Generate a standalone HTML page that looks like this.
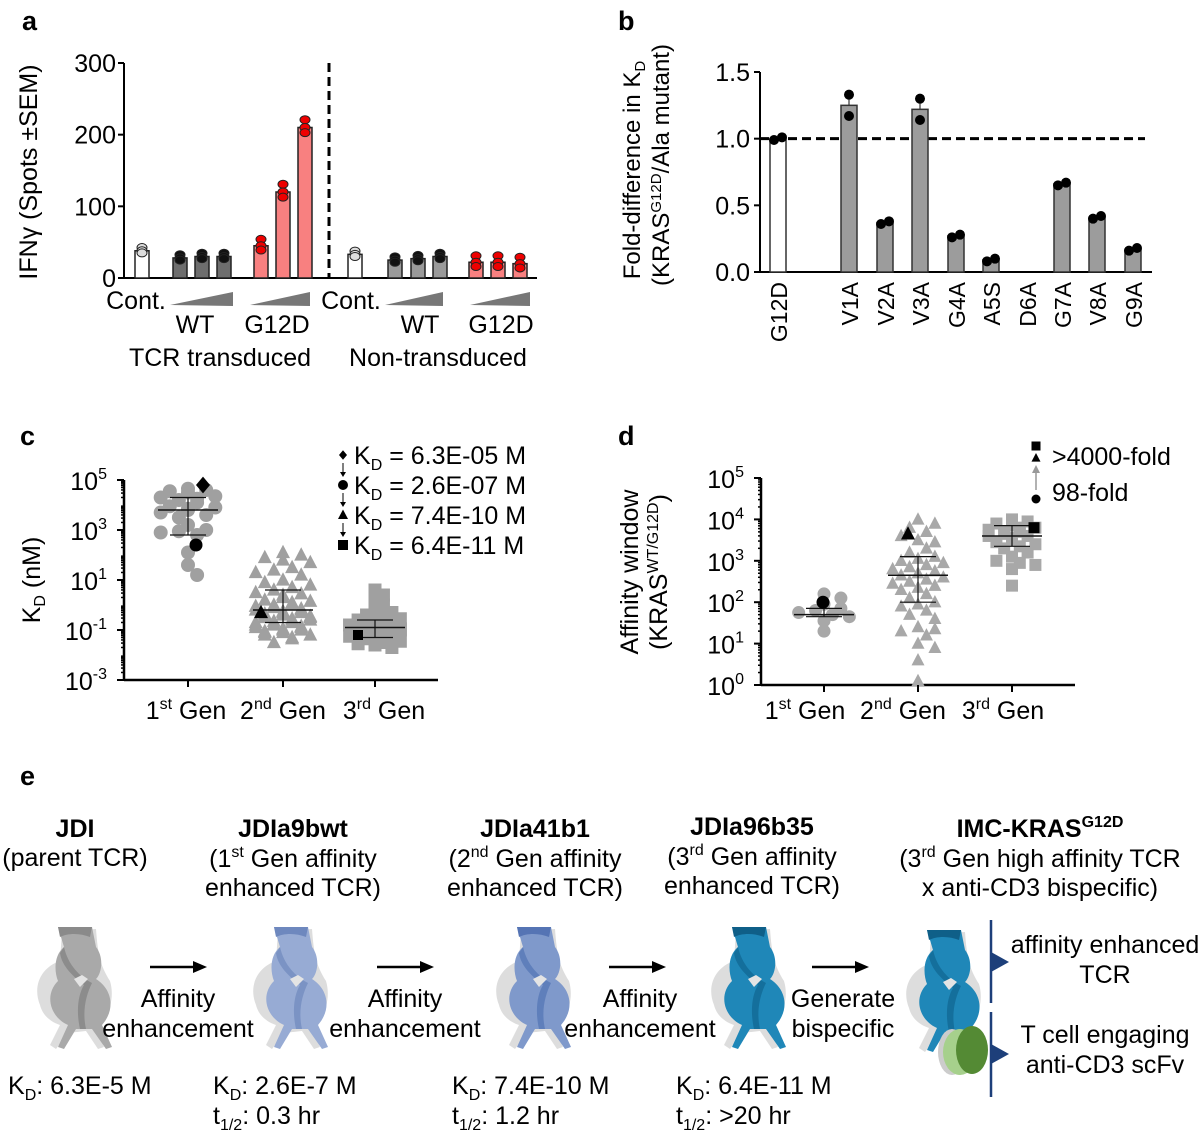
<!DOCTYPE html>
<html><head><meta charset="utf-8"><style>
body{margin:0;background:#fff;font-family:"Liberation Sans",Arial,sans-serif}
svg text{font-family:"Liberation Sans",Arial,sans-serif;fill:#000}
</style></head><body>
<svg id="fig" width="1200" height="1133" viewBox="0 0 1200 1133" xmlns="http://www.w3.org/2000/svg">
<g id="pa"></g>
<g id="pb"></g>
<g id="pc"></g>
<g id="pd"></g>
<g id="pe"></g>
</svg>
<script>
// ---- Panel a data
const aValues=[38,28,30,30,45,120,210,33,25,27,30,22,22,20];
const aKinds=['c','w','w','w','g','g','g','c','n','n','n','g','g','g'];
const aTicks=[0,100,200,300];
// ---- Panel b data
const bCats=['G12D','V1A','V2A','V3A','G4A','A5S','D6A','G7A','V8A','G9A'];
const bValues=[1.0,1.25,0.37,1.22,0.27,0.09,0,0.66,0.41,0.17];
const bTicks=['0.0','0.5','1.0','1.5'];
// ---- Panel c data (log10 nM)
const c1=[4.65,4.6,4.55,4.5,4.35,4.3,4.25,4.2,4.1,3.95,3.9,3.85,3.8,3.7,3.6,3.5,3.2,3.0,2.95,2.9,2.8,2.1,1.6,1.2];
const c2=[2.1,2.0,1.9,1.8,1.7,1.5,1.4,1.3,1.2,1.0,0.9,0.8,0.7,0.6,0.5,0.45,0.4,0.3,0.2,0.15,0.1,0.05,0,-0.05,-0.1,-0.15,-0.2,-0.2,-0.25,-0.3,-0.3,-0.35,-0.4,-0.4,-0.45,-0.5,-0.5,-0.55,-0.6,-0.6,-0.65,-0.7,-0.7,-0.75,-0.8,-0.8,-0.85,-0.9,-0.9,-0.95,-1.0,-1.0,-1.05,-1.1,-1.1,-1.2,-1.2,-1.3,-1.35,-1.5];
const c3=[0.6,0.4,0.2,0.0,-0.2,-0.3,-0.4,-0.5,-0.55,-0.6,-0.65,-0.7,-0.7,-0.75,-0.8,-0.8,-0.85,-0.9,-0.9,-0.95,-1.0,-1.0,-1.05,-1.1,-1.1,-1.15,-1.2,-1.2,-1.25,-1.3,-1.35,-1.4,-1.45,-1.5,-1.55,-1.6,-1.7];
const cMean=[3.8,-0.2,-0.9], cLo=[2.8,-0.7,-1.3], cHi=[4.3,0.6,-0.6];
const cSpecial=[4.8,2.4,-0.3,-1.2];
const cLegend=['6.3E-05 M','2.6E-07 M','7.4E-10 M','6.4E-11 M'];
// ---- Panel d data (log10 fold)
const d1=[2.2,2.1,1.95,1.85,1.8,1.75,1.7,1.65,1.55,1.3];
const d2=[4.0,3.9,3.8,3.7,3.6,3.5,3.45,3.3,3.2,3.1,3.05,3.0,2.95,2.9,2.85,2.8,2.75,2.7,2.65,2.6,2.55,2.5,2.45,2.4,2.35,2.3,2.2,2.1,2.0,1.95,1.9,1.8,1.7,1.6,1.4,1.35,1.3,1.2,1.0,0.9,0.6,0.1];
const d3=[4.0,3.95,3.9,3.85,3.8,3.8,3.75,3.7,3.7,3.65,3.6,3.6,3.55,3.5,3.45,3.4,3.35,3.3,3.2,3.1,3.0,2.95,2.9,2.8,2.4];
const dMean=[1.7,2.65,3.6], dLo=[1.65,2.0,3.35], dHi=[1.85,3.1,3.85];
const dSpecial=[2.0,3.65,3.8];

const NS='http://www.w3.org/2000/svg';
const FS=25;
function el(p,tag,at,txt){const e=document.createElementNS(NS,tag);for(const k in at)e.setAttribute(k,at[k]);if(txt!==undefined)e.textContent=txt;p.appendChild(e);return e;}
function label(p,x,y,str,size,anchor,weight){return el(p,'text',{x:x,y:y,'font-size':size,'text-anchor':anchor||'start','font-weight':weight||'normal'},str);}

// ===== Panel a
(function(){
const g=document.getElementById('pa');
const X0=124,Y0=278,Y1=63;
const ya=v=>Y0-(v/300)*(Y0-Y1);
const xs=[142,180,202,224,261,283,305,355,395,418,440,476,498,520];
let t=label(g,22,30,'a',27,'start','bold');
let ax=el(g,'line',{x1:X0,y1:Y1,x2:X0,y2:Y0,stroke:'#000','stroke-width':2});
let bx=el(g,'line',{x1:X0,y1:Y0,x2:537,y2:Y0,stroke:'#000','stroke-width':2});
aTicks.forEach(v=>{el(g,'line',{x1:X0-6,y1:ya(v),x2:X0,y2:ya(v),stroke:'#000','stroke-width':2});
 let tl=label(g,X0-8,ya(v)+9,String(v),FS,'end');});
let yt=el(g,'text',{x:0,y:0,'font-size':FS,'text-anchor':'middle',transform:'translate(37,172) rotate(-90)'},'IFNγ (Spots ±SEM)');
el(g,'line',{x1:329,y1:63,x2:329,y2:278,stroke:'#000','stroke-width':3,'stroke-dasharray':'9,5'});
aValues.forEach((v,i)=>{const k=aKinds[i];
 const fill=k==='c'?'#fff':k==='w'?'#6e6e6e':k==='n'?'#9a9a9a':'#f88080';
 const r=el(g,'rect',{x:xs[i]-7,y:ya(v),width:14,height:Y0-ya(v),fill:fill,stroke:'#222','stroke-width':1.5});
 
 const err=k==='g'?(v>100?12:10):5;
 el(g,'line',{x1:xs[i],y1:ya(v+err),x2:xs[i],y2:ya(v),stroke:'#222','stroke-width':1.5});
 el(g,'line',{x1:xs[i]-4,y1:ya(v+err),x2:xs[i]+4,y2:ya(v+err),stroke:'#222','stroke-width':1.5});
 const dc=k==='c'?'#ddd':k==='g'?'#e00':'#111';
 [v+err*0.9,v,v-err*0.6].forEach(p=>{el(g,'ellipse',{cx:xs[i],cy:ya(p),rx:5,ry:4,fill:dc,stroke:'#222','stroke-width':1});});
});
[[170,233],[250,310],[385,443],[470,530]].forEach(w=>{el(g,'polygon',{points:`${w[0]},305 ${w[1]},292 ${w[1]},306`,fill:'#777'});});
[['Cont.',136,309],['WT',195,333],['G12D',277,333],['Cont.',351,309],['WT',420,333],['G12D',501,333],['TCR transduced',220,366],['Non-transduced',438,366]].forEach(s=>{
 let tt=label(g,s[1],s[2],s[0],FS,'middle');});
})();

// ===== Panel b
(function(){
const g=document.getElementById('pb');
const X0=760,Y0=272,Y1=72;
const yb=v=>Y0-(v/1.5)*(Y0-Y1);
const xs=[778,849,885,920,956,991,1027,1062,1097,1133];
label(g,618,30,'b',27,'start','bold');
el(g,'line',{x1:X0,y1:Y1,x2:X0,y2:Y0,stroke:'#000','stroke-width':2});
el(g,'line',{x1:X0,y1:Y0,x2:1152,y2:Y0,stroke:'#000','stroke-width':2});
bTicks.forEach(s=>{const v=parseFloat(s);el(g,'line',{x1:X0-6,y1:yb(v),x2:X0,y2:yb(v),stroke:'#000','stroke-width':2});
 let tl=label(g,X0-10,yb(v)+9,s,FS,'end');});
el(g,'line',{x1:X0,y1:yb(1),x2:1145,y2:yb(1),stroke:'#000','stroke-width':3,'stroke-dasharray':'9,5'});
bValues.forEach((v,i)=>{
 if(v>0){const r=el(g,'rect',{x:xs[i]-8,y:yb(v),width:16,height:Y0-yb(v),fill:i===0?'#fff':'#9c9c9c',stroke:'#333','stroke-width':1.5});
 
 const big=(i===1||i===3);
 if(big){el(g,'line',{x1:xs[i],y1:yb(v+0.08),x2:xs[i],y2:yb(v),stroke:'#333','stroke-width':1.2});
  el(g,'circle',{cx:xs[i],cy:yb(v+0.08),r:5,fill:'#000'});el(g,'circle',{cx:xs[i],cy:yb(v-0.08),r:5,fill:'#000'});}
 else{el(g,'circle',{cx:xs[i]-4,cy:yb(v-0.01),r:5,fill:'#000'});el(g,'circle',{cx:xs[i]+4,cy:yb(v+0.01),r:5,fill:'#000'});}}
 let tl=el(g,'text',{x:0,y:0,'font-size':23,'text-anchor':'end',transform:`translate(${xs[i]+9},282) rotate(-90)`},bCats[i]);
 
});
let t1=el(g,'text',{x:0,y:0,'font-size':24,'text-anchor':'middle',transform:'translate(640,170) rotate(-90)'});
t1.innerHTML='Fold-difference in K<tspan font-size="15" dy="5">D</tspan>';
let t2=el(g,'text',{x:0,y:0,'font-size':24,'text-anchor':'middle',transform:'translate(669,165) rotate(-90)'});
t2.innerHTML='(KRAS<tspan font-size="15" dy="-8">G12D</tspan><tspan dy="8">/Ala mutant)</tspan>';


})();

function swarm(vals,yf,r,maxW){const placed=[];const out=[];
 vals.forEach(v=>{const y=yf(v);let best=0,bestC=1e9;
  for(let k=0;k<40;k++){const off=(k%2?1:-1)*Math.ceil(k/2)*r*1.3;if(Math.abs(off)>maxW)break;
   const c=placed.filter(p=>Math.hypot(p[0]-off,p[1]-y)<r*1.5).length;
   if(c<bestC){bestC=c;best=off;}if(c===0)break;}
  placed.push([best,y]);out.push([best,y]);});return out;}
function mark(g,shape,x,y,s,fill){let e;
 if(shape==='c')e=el(g,'circle',{cx:x,cy:y,r:s,fill:fill});
 else if(shape==='t')e=el(g,'polygon',{points:`${x},${y-s*1.1} ${x-s},${y+s*0.8} ${x+s},${y+s*0.8}`,fill:fill});
 else if(shape==='s')e=el(g,'rect',{x:x-s,y:y-s,width:2*s,height:2*s,fill:fill});
 else e=el(g,'polygon',{points:`${x},${y-s*1.2} ${x+s},${y} ${x},${y+s*1.2} ${x-s},${y}`,fill:fill});
 return e;}
function logAxis(g,X0,Ytop,Ybot,dmin,dmax,right,labels){
 const yf=v=>Ybot-(v-dmin)/(dmax-dmin)*(Ybot-Ytop);
 el(g,'line',{x1:X0,y1:Ytop,x2:X0,y2:Ybot,stroke:'#000','stroke-width':2.5});
 el(g,'line',{x1:X0,y1:Ybot,x2:right,y2:Ybot,stroke:'#000','stroke-width':2.5});
 for(let d=dmin;d<dmax;d++){for(let m=2;m<10;m++){const y=yf(d+Math.log10(m));el(g,'line',{x1:X0-3,y1:y,x2:X0,y2:y,stroke:'#000','stroke-width':1.5});}}
 labels.forEach(d=>{const y=yf(d);el(g,'line',{x1:X0-7,y1:y,x2:X0,y2:y,stroke:'#000','stroke-width':2});
  let t=el(g,'text',{x:X0-17,y:y+10,'font-size':FS,'text-anchor':'end'});t.innerHTML=`10<tspan font-size="16" dy="-11">${d}</tspan>`;
  });
 return yf;}
function genLabels(g,xs,y){const sup=['st','nd','rd'];xs.forEach((x,i)=>{let t=el(g,'text',{x:x,y:y,'font-size':FS,'text-anchor':'middle'});
 t.innerHTML=`${i+1}<tspan font-size="16" dy="-10">${sup[i]}</tspan><tspan dy="10"> Gen</tspan>`;});}
function errbar(g,x,m,lo,hi,yf,w){el(g,'line',{x1:x-w,y1:yf(m),x2:x+w,y2:yf(m),stroke:'#111','stroke-width':1.5});
 el(g,'line',{x1:x,y1:yf(lo),x2:x,y2:yf(hi),stroke:'#111','stroke-width':1.2});
 [lo,hi].forEach(v=>el(g,'line',{x1:x-w*0.6,y1:yf(v),x2:x+w*0.6,y2:yf(v),stroke:'#111','stroke-width':1.2}));}

// ===== Panel c
(function(){
const g=document.getElementById('pc');
label(g,20,445,'c',27,'start','bold');
const yf=logAxis(g,124,480,680,-3,5,438,[5,3,1,-1,-3]);
const xs=[188,283,375];
[[c1,'c',7,30],[c2,'t',7,32],[c3,'s',6.5,30]].forEach((s,i)=>{swarm(s[0],yf,s[2],s[3]).forEach(p=>mark(g,s[1],xs[i]+p[0],p[1],s[2],'#a0a0a0'));});
xs.forEach(x=>el(g,'line',{x1:x,y1:680,x2:x,y2:687,stroke:'#000','stroke-width':2}));
[0,1,2].forEach(i=>errbar(g,xs[i],cMean[i],cLo[i],cHi[i],yf,30));
mark(g,'d',xs[0]+15,yf(cSpecial[0]),7,'#000');mark(g,'c',xs[0]+8,yf(cSpecial[1]),6.5,'#000');
mark(g,'t',xs[1]-22,yf(cSpecial[2]),7,'#000');mark(g,'s',xs[2]-17,yf(cSpecial[3]),5,'#000');
genLabels(g,[186,283,384],719);
let yt=el(g,'text',{x:0,y:0,'font-size':FS,'text-anchor':'middle',transform:'translate(40,580) rotate(-90)'});yt.innerHTML='K<tspan font-size="16" dy="5">D</tspan><tspan dy="-5"> (nM)</tspan>';

const sh=['d','c','t','s'];
cLegend.forEach((s,i)=>{const y=455+i*30;mark(g,sh[i],343,y,i===0?4:5,'#000');
 let t=el(g,'text',{x:354,y:y+9,'font-size':FS});t.innerHTML=`K<tspan font-size="16" dy="6">D</tspan><tspan dy="-6"> = ${s}</tspan>`;
 
 if(i<3){el(g,'line',{x1:343,y1:y+8,x2:343,y2:y+18,stroke:'#000','stroke-width':1});el(g,'polygon',{points:`340,${y+17} 346,${y+17} 343,${y+22}`,fill:'#000'});}});
})();

// ===== Panel d
(function(){
const g=document.getElementById('pd');
label(g,618,445,'d',27,'start','bold');
const yf=logAxis(g,761,478,685,0,5,1075,[5,4,3,2,1,0]);
const xs=[824,918,1012];
[[d1,'c',6.5,30],[d2,'t',6.5,32],[d3,'s',6,30]].forEach((s,i)=>{swarm(s[0],yf,s[2],s[3]).forEach(p=>mark(g,s[1],xs[i]+p[0],p[1],s[2],'#a8a8a8'));});
xs.forEach(x=>el(g,'line',{x1:x,y1:685,x2:x,y2:692,stroke:'#000','stroke-width':2}));
[0,1,2].forEach(i=>errbar(g,xs[i],dMean[i],dLo[i],dHi[i],yf,30));
mark(g,'c',xs[0]-1,yf(dSpecial[0]),6.5,'#000');mark(g,'t',xs[1]-10,yf(dSpecial[1]),7,'#000');mark(g,'s',xs[2]+22,yf(dSpecial[2]),5.5,'#000');
genLabels(g,[805,903,1003],719);
let t1=el(g,'text',{x:0,y:0,'font-size':FS,'text-anchor':'middle',transform:'translate(638,572) rotate(-90)'},'Affinity window');
let t2=el(g,'text',{x:0,y:0,'font-size':FS,'text-anchor':'middle',transform:'translate(667,572) rotate(-90)'});
t2.innerHTML='(KRAS<tspan font-size="16" dy="-9">WT/G12D</tspan><tspan dy="9">)</tspan>';


mark(g,'s',1036,446,4.5,'#000');mark(g,'t',1036,458,4.5,'#000');
el(g,'line',{x1:1036,y1:472,x2:1036,y2:490,stroke:'#999','stroke-width':1.5});el(g,'polygon',{points:'1032,473 1040,473 1036,465',fill:'#999'});
mark(g,'c',1036,499,4.5,'#000');
label(g,1052,465,'>4000-fold',FS);label(g,1052,501,'98-fold',FS);
})();

// ===== Panel e
(function(){
const g=document.getElementById('pe');
label(g,20,785,'e',27,'start','bold');
function tcr(x,y,c1,c2,c3,name){const t=el(g,'g',{transform:`translate(${x},${y})`});
 el(t,'path',{d:'M4,80 C-4,60 6,42 24,36 L26,6 L60,4 C62,30 64,40 74,56 C80,76 70,96 60,104 L68,122 L62,124 L50,106 L32,108 L20,124 L14,120 L24,100 C12,96 6,88 4,80Z',fill:'#ddd'});
 el(t,'path',{d:'M22,2 L56,2 L60,22 C68,32 66,48 60,54 C76,64 80,84 66,100 L76,122 L70,124 L56,104 L40,104 L28,124 L22,122 L32,100 C14,92 8,70 22,56 C18,46 18,30 28,22Z',fill:c1});
 el(t,'path',{d:'M22,2 L56,2 L54,12 C44,8 32,8 24,12Z',fill:c3});
 el(t,'path',{d:'M28,22 C32,40 44,52 56,58 C50,70 46,86 50,104 L44,104 C40,86 42,70 48,60 C38,52 26,42 24,28Z',fill:c2});
 el(t,'polygon',{points:'38,54 46,50 52,54 44,62',fill:'#e4e4e4'});}
tcr(36,925,'#a9a9a9','#8c8c8c','#8a8a8a','tcr-parent');
tcr(252,925,'#97abd4','#7b93c4','#6e88be','tcr-gen1');
tcr(495,925,'#7f99cb','#5f7fbb','#5574b4','tcr-gen2');
tcr(710,925,'#1f87b8','#146f9c','#0f5f88','tcr-gen3');
tcr(905,928,'#1f87b8','#146f9c','#0f5f88','tcr-bispecific');
el(g,'ellipse',{cx:952,cy:1052,rx:14,ry:23,fill:'#ccc'});
el(g,'ellipse',{cx:960,cy:1052,rx:17,ry:23,fill:'#a6d08c'});
el(g,'ellipse',{cx:972,cy:1050,rx:16,ry:24,fill:'#548a34'});
[[150,207],[377,434],[609,666],[812,869]].forEach(a=>{el(g,'line',{x1:a[0],y1:967,x2:a[1]-12,y2:967,stroke:'#000','stroke-width':2.5});el(g,'polygon',{points:`${a[1]-14},961 ${a[1]},967 ${a[1]-14},973`,fill:'#000'});});
[[178,'Affinity','enhancement'],[405,'Affinity','enhancement'],[640,'Affinity','enhancement'],[843,'Generate','bispecific']].forEach(s=>{
 label(g,s[0],1007,s[1],FS,'middle');label(g,s[0],1037,s[2],FS,'middle');});
label(g,75,837,'JDI',FS,'middle','bold');label(g,75,866,'(parent TCR)',FS,'middle');
label(g,293,837,'JDIa9bwt',FS,'middle','bold');
let t=el(g,'text',{x:293,y:867,'font-size':FS,'text-anchor':'middle'});t.innerHTML='(1<tspan font-size="16" dy="-10">st</tspan><tspan dy="10"> Gen affinity</tspan>';
label(g,293,896,'enhanced TCR)',FS,'middle');
label(g,535,837,'JDIa41b1',FS,'middle','bold');
t=el(g,'text',{x:535,y:867,'font-size':FS,'text-anchor':'middle'});t.innerHTML='(2<tspan font-size="16" dy="-10">nd</tspan><tspan dy="10"> Gen affinity</tspan>';
label(g,535,896,'enhanced TCR)',FS,'middle');
label(g,752,835,'JDIa96b35',FS,'middle','bold');
t=el(g,'text',{x:752,y:865,'font-size':FS,'text-anchor':'middle'});t.innerHTML='(3<tspan font-size="16" dy="-10">rd</tspan><tspan dy="10"> Gen affinity</tspan>';
label(g,752,894,'enhanced TCR)',FS,'middle');
t=el(g,'text',{x:1040,y:837,'font-size':FS,'text-anchor':'middle','font-weight':'bold'});t.innerHTML='IMC-KRAS<tspan font-size="16" dy="-10">G12D</tspan>';
t=el(g,'text',{x:1040,y:867,'font-size':FS,'text-anchor':'middle'});t.innerHTML='(3<tspan font-size="16" dy="-10">rd</tspan><tspan dy="10"> Gen high affinity TCR</tspan>';
label(g,1040,896,'x anti-CD3 bispecific)',FS,'middle');
el(g,'line',{x1:991,y1:920,x2:991,y2:1003,stroke:'#1d3f7a','stroke-width':2.5});
el(g,'line',{x1:991,y1:1012,x2:991,y2:1097,stroke:'#1d3f7a','stroke-width':2.5});
el(g,'polygon',{points:'991,952 1009,962 991,972',fill:'#1d3f7a'});
el(g,'polygon',{points:'991,1044 1009,1054 991,1064',fill:'#1d3f7a'});
label(g,1105,953,'affinity enhanced',FS,'middle');label(g,1105,983,'TCR',FS,'middle');
label(g,1105,1043,'T cell engaging',FS,'middle');label(g,1105,1073,'anti-CD3 scFv',FS,'middle');
[[8,'6.3E-5 M',null],[213,'2.6E-7 M','0.3 hr'],[452,'7.4E-10 M','1.2 hr'],[676,'6.4E-11 M','>20 hr']].forEach(s=>{
 let a=el(g,'text',{x:s[0],y:1094,'font-size':FS});a.innerHTML=`K<tspan font-size="16" dy="6">D</tspan><tspan dy="-6">: ${s[1]}</tspan>`;
 
 if(s[2]){let b=el(g,'text',{x:s[0],y:1124,'font-size':FS});b.innerHTML=`t<tspan font-size="16" dy="6">1/2</tspan><tspan dy="-6">: ${s[2]}</tspan>`;
 }});
})();
</script>
</body></html>
